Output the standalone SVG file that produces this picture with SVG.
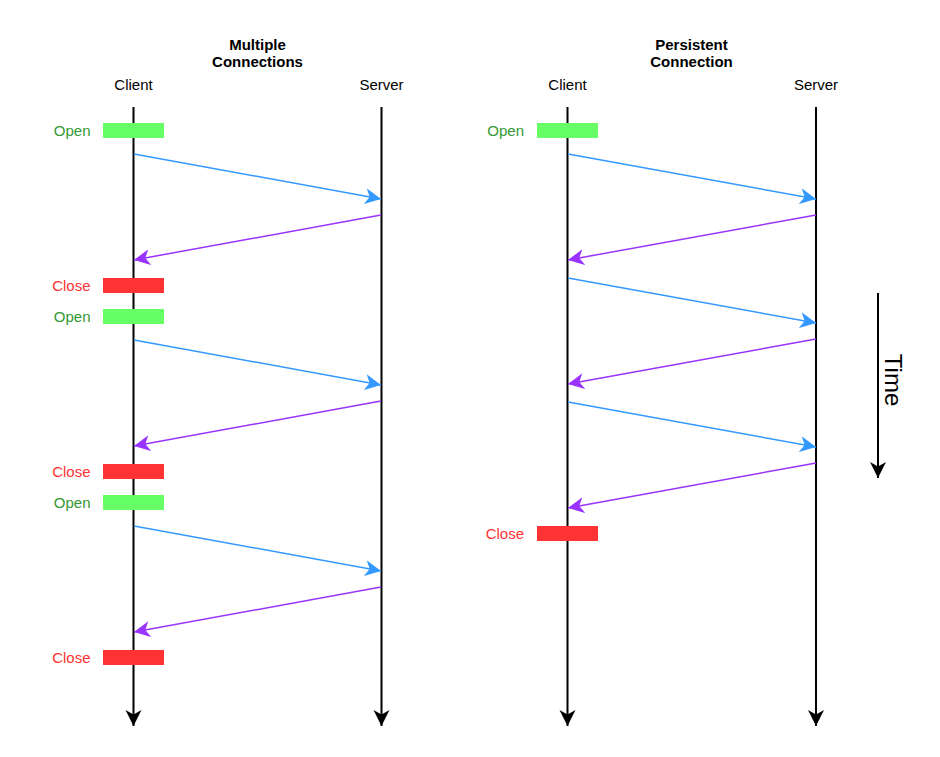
<svg xmlns="http://www.w3.org/2000/svg" width="940" height="757" viewBox="0 0 940 757">
<style>
text{font-family:"Liberation Sans",Arial,sans-serif;font-size:15px;fill:#000}
.t{font-weight:bold;text-anchor:middle}
.h{text-anchor:middle}
.op{fill:#339933;text-anchor:end}
.cl{fill:#FF3333;text-anchor:end}
.gb{fill:#66FF66}
.rb{fill:#FF3333}
.life{stroke:#000;stroke-width:2;fill:none;marker-end:url(#ak)}
.req{stroke:#3399FF;stroke-width:1.5;fill:none;marker-end:url(#ab)}
.res{stroke:#9933FF;stroke-width:1.5;fill:none;marker-end:url(#ap)}
</style>
<defs>
<marker id="ak" markerUnits="userSpaceOnUse" markerWidth="17" markerHeight="17" refX="16" refY="8" orient="auto"><path d="M0,0 L16,8 L0,16 L4.5,8 Z" fill="#000"/></marker>
<marker id="ab" markerUnits="userSpaceOnUse" markerWidth="17" markerHeight="17" refX="16" refY="8" orient="auto"><path d="M0,0 L16,8 L0,16 L4.5,8 Z" fill="#3399FF"/></marker>
<marker id="ap" markerUnits="userSpaceOnUse" markerWidth="17" markerHeight="17" refX="16" refY="8" orient="auto"><path d="M0,0 L16,8 L0,16 L4.5,8 Z" fill="#9933FF"/></marker>
</defs>
<rect width="940" height="757" fill="#fff"/>
<g id="title-multiple"><text class="t" x="257.5" y="50">Multiple</text><text class="t" x="257.5" y="67">Connections</text></g>
<g id="title-persistent"><text class="t" x="691.5" y="50">Persistent</text><text class="t" x="691.5" y="67">Connection</text></g>
<g id="client-left"><text class="h" x="133.5" y="90">Client</text><path class="life" d="M133.5,107 V726"/></g>
<g id="server-left"><text class="h" x="381.5" y="90">Server</text><path class="life" d="M381.5,107 V726"/></g>
<g id="client-right"><text class="h" x="567.5" y="90">Client</text><path class="life" d="M567.5,107 V726"/></g>
<g id="server-right"><text class="h" x="816" y="90">Server</text><path class="life" d="M816,107 V726"/></g>
<g id="time"><path class="life" d="M878,293 V478"/><text x="0" y="0" text-anchor="middle" transform="translate(885,380) rotate(90)" style="font-size:24px">Time</text></g>
<g id="open1"><rect class="gb" x="103" y="123" width="61" height="15"/><text class="op" x="90.5" y="136">Open</text></g>
<g id="close1"><rect class="rb" x="103" y="278" width="61" height="15"/><text class="cl" x="90.5" y="291">Close</text></g>
<g id="open2"><rect class="gb" x="103" y="309" width="61" height="15"/><text class="op" x="90.5" y="322">Open</text></g>
<g id="close2"><rect class="rb" x="103" y="464" width="61" height="15"/><text class="cl" x="90.5" y="477">Close</text></g>
<g id="open3"><rect class="gb" x="103" y="495" width="61" height="15"/><text class="op" x="90.5" y="508">Open</text></g>
<g id="close3"><rect class="rb" x="103" y="650" width="61" height="15"/><text class="cl" x="90.5" y="663">Close</text></g>
<g id="open-p"><rect class="gb" x="537" y="123" width="61" height="15"/><text class="op" x="524" y="136">Open</text></g>
<g id="close-p"><rect class="rb" x="537" y="526" width="61" height="15"/><text class="cl" x="524" y="539">Close</text></g>
<g id="connectors">
<path class="req" d="M134,154 L381,199"/>
<path class="res" d="M381,215 L134,260"/>
<path class="req" d="M134,340 L381,385"/>
<path class="res" d="M381,401 L134,446"/>
<path class="req" d="M134,526 L381,571"/>
<path class="res" d="M381,587 L134,632"/>
<path class="req" d="M568,154 L816,199"/>
<path class="res" d="M816,215 L568,260"/>
<path class="req" d="M568,278 L816,323"/>
<path class="res" d="M816,339 L568,384"/>
<path class="req" d="M568,402 L816,447"/>
<path class="res" d="M816,463 L568,508"/>
</g>
</svg>
